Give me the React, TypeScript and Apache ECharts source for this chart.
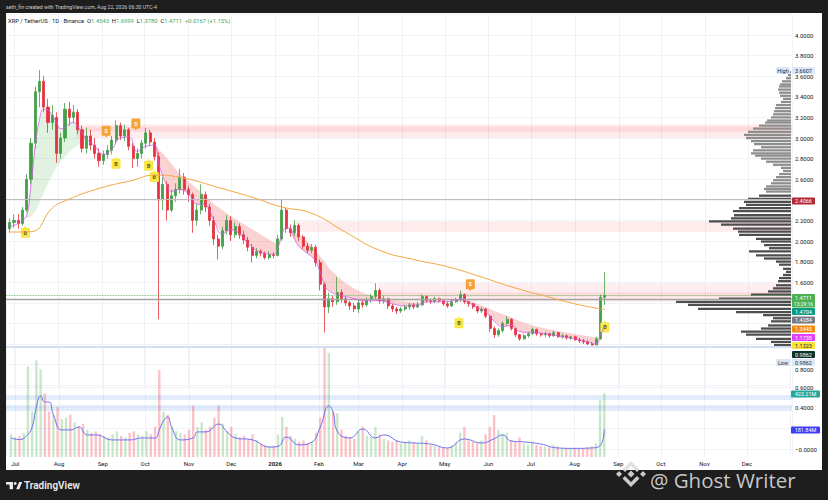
import React, { useEffect, useRef } from "react";
import * as echarts from "echarts";

const DAY = 86400000;
const FIRST_CANDLE = Date.UTC(2025, 5, 28);
const CANDLE_STEP_DAYS = 3;
const X_MIN = Date.UTC(2025, 5, 25, 8);
const X_MAX = Date.UTC(2027, 0, 1, 1);
const LAST_LABEL = Date.UTC(2026, 11, 15);

// [open, close, low, high], one candle every 3 days from 2025-06-28
const candles: number[][] = [
  [2.12,2.18,2.08,2.22],[2.18,2.2,2.13,2.26],[2.2,2.17,2.12,2.26],[2.17,2.3,2.15,2.33],[2.3,2.6,2.28,2.65],[2.6,2.95,2.55,3.0],[2.95,3.45,2.9,3.5],[3.45,3.55,3.3,3.6607],[3.55,3.3,3.25,3.6],[3.3,3.15,3.05,3.38],
  [3.15,3.22,3.08,3.32],[3.2,2.85,2.76,3.25],[2.85,3.0,2.8,3.05],[3.0,3.28,2.96,3.34],[3.28,3.2,3.12,3.35],[3.2,3.25,3.15,3.32],[3.25,3.08,3.04,3.28],[3.08,2.9,2.86,3.12],[2.9,3.02,2.85,3.1],[3.02,2.93,2.88,3.08],
  [2.93,2.85,2.8,3.0],[2.85,2.78,2.72,2.9],[2.78,2.84,2.74,2.88],[2.84,2.88,2.8,2.93],[2.88,2.98,2.84,3.02],[2.98,3.12,2.95,3.17],[3.12,3.02,2.98,3.15],[3.02,3.08,2.97,3.13],[3.08,2.92,2.88,3.1],[2.92,2.8,2.71,2.95],
  [2.8,2.85,2.72,2.9],[2.85,2.95,2.8,2.98],[2.95,3.05,2.9,3.1],[3.05,2.96,2.92,3.08],[2.96,2.82,2.78,3.0],[2.82,2.4,1.24,2.86],[2.4,2.55,2.3,2.62],[2.55,2.3,2.2,2.58],[2.3,2.44,2.28,2.5],[2.44,2.5,2.38,2.56],
  [2.5,2.62,2.46,2.7],[2.62,2.5,2.45,2.66],[2.5,2.45,2.38,2.53],[2.45,2.2,2.08,2.47],[2.2,2.3,2.15,2.36],[2.3,2.45,2.26,2.55],[2.45,2.33,2.28,2.48],[2.33,2.2,2.15,2.36],[2.2,2.02,1.96,2.24],[2.02,1.95,1.82,2.06],
  [1.95,2.1,1.92,2.14],[2.1,2.2,2.06,2.25],[2.2,2.06,2.0,2.24],[2.06,2.14,2.03,2.18],[2.14,2.06,2.02,2.17],[2.06,2.01,1.97,2.1],[2.01,1.94,1.9,2.04],[1.94,1.86,1.79,1.97],[1.86,1.9,1.83,1.93],[1.9,1.88,1.85,1.92],
  [1.88,1.84,1.82,1.9],[1.84,1.87,1.82,1.9],[1.87,1.86,1.83,1.89],[1.86,2.02,1.85,2.06],[2.02,2.3,2.0,2.4],[2.3,2.12,2.08,2.32],[2.12,2.08,2.04,2.16],[2.08,2.15,2.05,2.2],[2.15,2.04,2.0,2.17],[2.04,1.95,1.92,2.06],
  [1.95,1.91,1.88,1.98],[1.91,1.94,1.88,1.97],[1.94,1.79,1.75,1.96],[1.79,1.58,1.52,1.82],[1.58,1.36,1.11,1.6],[1.36,1.44,1.3,1.5],[1.44,1.41,1.36,1.47],[1.41,1.5,1.38,1.65],[1.5,1.44,1.4,1.53],[1.44,1.4,1.37,1.46],
  [1.4,1.37,1.33,1.42],[1.37,1.34,1.31,1.4],[1.34,1.4,1.3,1.43],[1.4,1.38,1.35,1.43],[1.38,1.43,1.36,1.45],[1.43,1.46,1.4,1.49],[1.46,1.52,1.43,1.59],[1.52,1.42,1.39,1.54],[1.42,1.44,1.39,1.47],[1.44,1.37,1.34,1.45],
  [1.37,1.34,1.31,1.39],[1.34,1.32,1.29,1.36],[1.32,1.34,1.3,1.36],[1.34,1.36,1.32,1.38],[1.36,1.38,1.33,1.4],[1.38,1.36,1.34,1.4],[1.36,1.38,1.35,1.41],[1.38,1.46,1.37,1.48],[1.46,1.42,1.4,1.47],[1.42,1.41,1.39,1.44],
  [1.41,1.44,1.4,1.46],[1.44,1.42,1.4,1.45],[1.42,1.39,1.37,1.43],[1.39,1.37,1.35,1.41],[1.37,1.41,1.36,1.43],[1.41,1.43,1.4,1.45],[1.43,1.48,1.41,1.52],[1.48,1.41,1.39,1.49],[1.41,1.39,1.36,1.42],[1.39,1.36,1.34,1.4],
  [1.36,1.32,1.3,1.37],[1.32,1.34,1.3,1.36],[1.34,1.27,1.25,1.35],[1.27,1.15,1.12,1.28],[1.15,1.09,1.06,1.17],[1.09,1.13,1.07,1.15],[1.13,1.2,1.11,1.22],[1.2,1.24,1.18,1.27],[1.24,1.15,1.13,1.25],[1.15,1.09,1.07,1.16],
  [1.09,1.05,1.03,1.1],[1.05,1.08,1.04,1.1],[1.08,1.1,1.06,1.12],[1.1,1.14,1.09,1.16],[1.14,1.1,1.08,1.15],[1.1,1.09,1.07,1.11],[1.09,1.1,1.07,1.12],[1.1,1.08,1.06,1.11],[1.08,1.11,1.07,1.13],[1.11,1.07,1.06,1.12],
  [1.07,1.08,1.05,1.1],[1.08,1.06,1.04,1.09],[1.06,1.07,1.04,1.08],[1.07,1.04,1.03,1.08],[1.04,1.03,1.01,1.06],[1.03,1.02,1.0,1.05],[1.02,1.0,0.99,1.04],[1.0,0.99,0.9862,1.02],[0.99,1.05,0.99,1.07],[1.05,1.4543,1.04,1.48],
  [1.4543,1.4711,1.378,1.6999],
];

// volume (M) per candle
const volumes: number[] = [
  150,130,140,160,600,300,640,580,420,300,
  280,330,250,260,280,230,200,220,180,160,
  170,150,140,130,150,170,140,130,160,170,
  150,140,170,150,200,576,300,280,200,170,
  160,150,180,340,200,230,180,200,260,340,
  220,170,200,150,130,140,120,150,110,90,
  80,70,75,150,265,200,140,120,100,110,
  90,100,160,260,728,690,300,290,180,140,
  130,120,170,200,140,130,200,150,120,110,
  100,110,90,100,110,95,90,140,110,80,
  75,70,65,60,80,100,160,200,110,100,
  90,110,150,200,278,180,150,160,110,100,
  130,90,80,100,80,75,70,65,80,70,
  60,60,55,60,55,60,65,70,90,380,
  423.21,
];

// [candle index, value]
const ma200: number[][] = [
  [0,2.087],[5,2.09],[10,2.32],[13,2.39],[21,2.51],[29,2.59],[34,2.64],[41,2.61],[49,2.52],[57,2.425],
  [64,2.33],[71,2.27],[79,2.085],[87,1.91],[95,1.82],[103,1.75],[111,1.65],[118,1.555],[126,1.465],[134,1.38],[140,1.335],
];
const fastMA: number[][] = [
  [0,2.14],[2,2.17],[3,2.2],[4,2.25],[5,2.55],[6,2.92],[7,3.18],[8,3.28],[9,3.27],[10,3.22],[11,3.15],[12,3.09],[13,3.1],[14,3.14],[15,3.15],
  [16,3.11],[17,3.05],[18,2.99],[19,2.96],[20,2.92],[22,2.84],[24,2.89],[26,3.0],[28,3.01],[30,2.87],[32,2.92],[34,2.93],[35,2.76],[36,2.63],
  [37,2.54],[38,2.48],[40,2.5],[42,2.46],[44,2.36],[46,2.35],[48,2.2],[50,2.07],[52,2.11],[54,2.07],[56,1.98],[58,1.91],[60,1.88],[62,1.87],
  [63,1.93],[64,2.06],[65,2.13],[66,2.12],[67,2.02],[68,1.95],[70,1.88],[71,1.85],[72,1.8],[73,1.7],[74,1.58],[75,1.52],[77,1.48],[79,1.46],
  [81,1.44],[83,1.42],[85,1.42],[87,1.42],[90,1.39],[93,1.37],[96,1.38],[98,1.41],[102,1.41],[106,1.43],[108,1.4],[110,1.35],[112,1.31],
  [114,1.22],[116,1.17],[118,1.18],[120,1.12],[123,1.11],[126,1.1],[130,1.07],[134,1.04],[137,1.01],[138,1.0],[139,1.09],[140,1.174],
];
// [candle index, upper, lower]
const greenCloud: number[][] = [
  [4,2.25,2.22],[5,2.55,2.24],[6,2.92,2.29],[7,3.18,2.37],[8,3.28,2.47],[9,3.27,2.56],[10,3.22,2.64],[11,3.15,2.72],
  [12,3.09,2.77],[13,3.1,2.82],[14,3.14,2.86],[15,3.15,2.9],[16,3.11,2.93],[17,3.05,2.96],[18,2.99,2.98],
];
const redCloud: number[][] = [
  [34,2.93,2.93],[35,2.89,2.76],[36,2.85,2.63],[37,2.8,2.54],[38,2.75,2.48],[40,2.65,2.5],[42,2.58,2.46],[44,2.51,2.36],[46,2.44,2.35],
  [48,2.36,2.2],[50,2.3,2.07],[52,2.24,2.11],[54,2.19,2.07],[56,2.14,1.98],[58,2.09,1.91],[60,2.04,1.88],[62,1.99,1.87],[63,1.97,1.93],
  [64,2.0,2.0],[66,2.07,2.07],[67,2.08,2.02],[68,2.06,1.95],[70,2.0,1.88],[71,1.95,1.85],[72,1.9,1.8],[73,1.85,1.7],[74,1.8,1.58],
  [75,1.74,1.52],[77,1.66,1.48],[79,1.59,1.46],[81,1.54,1.44],[83,1.5,1.42],[85,1.47,1.42],[87,1.45,1.42],[90,1.42,1.39],[93,1.41,1.37],
  [96,1.4,1.38],[98,1.41,1.41],[106,1.43,1.43],[108,1.42,1.4],[110,1.39,1.35],[112,1.36,1.31],[114,1.32,1.22],[116,1.29,1.17],
  [118,1.26,1.18],[120,1.22,1.12],[123,1.18,1.11],[126,1.15,1.1],[130,1.12,1.07],[134,1.09,1.04],[137,1.07,1.01],[138,1.065,1.0],[139,1.07,1.07],
];
// volume moving average (M): [candle index, value]
const volMA: number[][] = [
  [0,126],[2,115],[4,150],[5,199],[6,330],[7,405],[8,364],[9,364],[10,280],[12,179],[14,179],[16,199],[18,146],[20,146],[24,113],
  [28,113],[31,126],[34,126],[35,180],[36,240],[37,265],[38,190],[40,113],[43,126],[44,166],[46,166],[49,218],[51,166],[53,126],
  [57,113],[61,66],[63,70],[65,132],[68,80],[71,99],[73,199],[75,338],[76,298],[77,170],[80,126],[83,185],[86,126],[88,146],
  [92,99],[95,93],[99,86],[103,60],[107,119],[111,93],[114,120],[116,146],[118,106],[121,100],[125,86],[129,60],[133,57],
  [137,60],[139,75],[140,181.84],
];
// volume profile: [price, length]
const profile: number[][] = [
  [3.64,2],[3.61,3],[3.58,5],[3.55,9],[3.52,11],[3.5,12],[3.47,13],[3.44,12],[3.41,11],[3.38,8],[3.35,10],[3.32,15],[3.29,16],
  [3.26,17],[3.23,18],[3.2,20],[3.17,24],[3.15,26],[3.12,32],[3.09,38],[3.06,43],[3.03,47],[3.0,45],[2.97,40],[2.94,37],[2.91,30],
  [2.88,38],[2.85,40],[2.83,36],[2.8,30],[2.77,25],[2.74,18],[2.71,10],[2.68,8],[2.65,12],[2.62,15],[2.59,18],[2.56,20],[2.53,25],
  [2.505,27],[2.48,25],[2.44,32],[2.41,43],[2.38,47],[2.35,45],[2.32,52],[2.29,58],[2.25,57],[2.22,60],[2.19,82],[2.16,70],[2.12,58],
  [2.09,53],[2.06,52],[2.02,35],[1.995,30],[1.96,27],[1.93,22],[1.9,42],[1.86,35],[1.83,27],[1.8,15],[1.77,12],[1.73,8],[1.7,5],
  [1.67,8],[1.64,12],[1.61,13],[1.57,15],[1.54,18],[1.51,23],[1.48,40],[1.44,72],[1.41,115],[1.38,103],[1.34,93],[1.31,55],[1.28,28],
  [1.25,18],[1.22,20],[1.18,23],[1.15,30],[1.12,50],[1.09,45],[1.05,35],[1.02,20],[0.99,17],
];
const VA_LOW = 0.98;
const VA_HIGH = 2.46;
const PROFILE_BIN = 0.022;

// signals: [date, price, kind]
const signals: [string, number, string][] = [
  ["2025-07-09", 2.09, "B"], ["2025-09-04", 3.06, "S"], ["2025-09-11", 2.76, "B"], ["2025-09-25", 3.13, "S"],
  ["2025-10-04", 2.74, "B"], ["2025-10-08", 2.63, "B"], ["2026-05-11", 1.21, "B"], ["2026-05-19", 1.57, "S"],
  ["2026-08-22", 1.17, "B"],
];
// supply zones: start date, low, high, opacity
const zoneStarts = ["2025-08-14", "2025-08-14", "2026-01-14", "2026-03-15", "2026-03-15"];
const zoneLows = [3.0, 3.06, 2.09, 1.41, 1.46];
const zoneHighs = [3.13, 3.11, 2.19, 1.59, 1.5];
const zoneAlphas = [0.1, 0.1, 0.1, 0.09, 0.1];
// indicator bands
const bandLows = [0.368, 0.474];
const bandHighs = [0.426, 0.523];
// horizontal levels
const levelValues = [2.4066, 1.4284, 1.4711, 0.975];
// price-axis ticks hidden behind the axis badges (as on the reference)
const coveredTicks = [2.4, 1.4, 1.2, 1.0];

const MONTHS = ["Jan","Feb","Mar","Apr","May","Jun","Jul","Aug","Sep","Oct","Nov","Dec"];
const FONT = 'Roboto, "Noto Sans", sans-serif';
const UP = "#43a047";
const DOWN = "#e6323e";

const tAt = (i: number) => FIRST_CANDLE + i * CANDLE_STEP_DAYS * DAY;
const d = (s: string) => Date.parse(s + "T00:00:00Z");

const S_PATH = "path://M1,0 H9 Q10,0 10,1 V9 Q10,10 9,10 H6.5 L5,12 L3.5,10 H1 Q0,10 0,9 V1 Q0,0 1,0 Z";
const B_PATH = "path://M1,2 H3.5 L5,0 L6.5,2 H9 Q10,2 10,3 V11 Q10,12 9,12 H1 Q0,12 0,11 V3 Q0,2 1,2 Z";

function cloudSeries(cloud: number[][], fill: string) {
  return {
    type: "custom",
    xAxisIndex: 0,
    yAxisIndex: 0,
    z: 2,
    silent: true,
    data: [[tAt(cloud[0][0]), cloud[0][1]]],
    renderItem: (_p: any, api: any) => {
      const up = cloud.map((c) => api.coord([tAt(c[0]), c[1]]));
      const lo = cloud.slice().reverse().map((c) => api.coord([tAt(c[0]), c[2]]));
      return { type: "polygon", shape: { points: up.concat(lo) }, style: { fill } };
    },
  };
}

function txt(x: number, y: number, text: string, font: string, fill: string, align = "left") {
  return {
    type: "text", x, y, z: 101,
    style: { text, font, fill, align, verticalAlign: "middle", textAlign: align, textVerticalAlign: "middle" },
  };
}
function badge(x: number, y: number, w: number, h: number, bg: string, text: string, fg: string) {
  return [
    { type: "rect", z: 100, shape: { x, y: y - h / 2, width: w, height: h, r: 1 }, style: { fill: bg } },
    txt(x + w / 2, y + 0.3, text, `5.5px ${FONT}`, fg, "center"),
  ];
}

const axisBadges: [string, number, string, string][] = [
  ["3.6607", 70.5, "#dbe6f6", "#2a2e39"],
  ["2.4066", 201, "#b22833", "#ffffff"],
  ["1.4704", 311.5, "#089981", "#ffffff"],
  ["1.4284", 320, "#787b86", "#ffffff"],
  ["1.3445", 329, "#f5890f", "#ffffff"],
  ["1.1738", 337.5, "#e040fb", "#ffffff"],
  ["1.1323", 345.5, "#f7e43a", "#2a2e39"],
  ["0.9862", 354.5, "#0c3327", "#ffffff"],
  ["0.9862", 362.5, "#dbe6f6", "#2a2e39"],
];

function buildOption() {
  const timeAxisBase = {
    type: "time", min: X_MIN, max: X_MAX, splitNumber: 18,
    axisLine: { show: false }, axisTick: { show: false },
    splitLine: { show: true, lineStyle: { color: "#f0f2f7", width: 1 } },
  };
  const graphics: any[] = [
    txt(6, 6.5, "seth_fin created with TradingView.com, Aug 22, 2026 06:30 UTC-4", `5.2px ${FONT}`, "#cfcfcf"),
    {
      type: "text", x: 8, y: 21, z: 101,
      style: {
        text: "{d|XRP / TetherUS · 1D · Binance}  {d|O}{g|1.4543}  {d|H}{g|1.6999}  {d|L}{g|1.3780}  {d|C}{g|1.4711}  {g|+0.0167 (+1.15%)}",
        font: `5.8px ${FONT}`, verticalAlign: "middle", textVerticalAlign: "middle",
        rich: {
          d: { fill: "#131722", color: "#131722", font: `5.8px ${FONT}` },
          g: { fill: "#3fa85a", color: "#3fa85a", font: `5.8px ${FONT}` },
        },
      },
    },
  ];
  axisBadges.forEach(([t, y, bg, fg]) => graphics.push(...badge(792, y, 23, 7, bg, t, fg)));
  graphics.push(...badge(776, 70.5, 14, 7, "#dbe6f6", "High", "#2a2e39"));
  graphics.push(...badge(776, 362.5, 14, 7, "#dbe6f6", "Low", "#2a2e39"));
  graphics.push({ type: "rect", z: 100, shape: { x: 792, y: 294, width: 23, height: 13.5, r: 1 }, style: { fill: "#4caf50" } });
  graphics.push(txt(803.5, 297.5, "1.4711", `5.5px ${FONT}`, "#ffffff", "center"));
  graphics.push(txt(803.5, 304, "13:29:16", `5px ${FONT}`, "#ffffff", "center"));
  graphics.push(...badge(791, 394, 29, 7, "#26a69a", "423.21M", "#ffffff"));
  graphics.push(...badge(791, 430, 29, 7, "#3d3df2", "181.84M", "#ffffff"));
  // TradingView logo
  graphics.push({ type: "rect", z: 101, shape: { x: 6, y: 482, width: 7, height: 2.6 }, style: { fill: "#ececec" } });
  graphics.push({ type: "rect", z: 101, shape: { x: 9.6, y: 482, width: 3.4, height: 7.2 }, style: { fill: "#ececec" } });
  graphics.push({ type: "circle", z: 101, shape: { cx: 15.2, cy: 483.4, r: 1.45 }, style: { fill: "#ececec" } });
  graphics.push({ type: "polygon", z: 101, shape: { points: [[16.2, 489.2], [19.2, 482], [22.2, 482], [19.2, 489.2]] }, style: { fill: "#ececec" } });
  graphics.push(txt(24, 485.8, "TradingView", `600 10px ${FONT}`, "#ececec"));
  // watermark
  const wm = "rgba(222,222,222,0.9)";
  graphics.push({ type: "polygon", z: 102, shape: { points: [[631, 461], [639.5, 469.5], [637, 472], [631, 466], [625, 472], [622.5, 469.5]] }, style: { fill: wm } });
  graphics.push({ type: "polygon", z: 102, shape: { points: [[631, 487], [639.5, 478.5], [637, 476], [631, 482], [625, 476], [622.5, 478.5]] }, style: { fill: wm } });
  graphics.push({ type: "polygon", z: 102, shape: { points: [[631, 470.5], [634.5, 474], [631, 477.5], [627.5, 474]] }, style: { fill: wm } });
  graphics.push({ type: "polygon", z: 102, shape: { points: [[619, 471], [622, 474], [619, 477], [616, 474]] }, style: { fill: wm } });
  graphics.push({ type: "polygon", z: 102, shape: { points: [[643, 471], [646, 474], [643, 477], [640, 474]] }, style: { fill: wm } });
  graphics.push(txt(650, 479.5, "@ Ghost Writer", `20.5px "Open Sans", ${FONT}`, wm));

  const isCovered = (v: number) => coveredTicks.some((c) => Math.abs(c - v) < 1e-6);

  return {
    animation: false,
    useUTC: true,
    backgroundColor: "transparent",
    grid: [
      { left: 6, right: 36, top: 14.4, height: 370.8, outerBoundsMode: "none" },
      { left: 6, right: 36, top: 347, height: 110, outerBoundsMode: "none" },
      { left: 6, right: 36, top: 387, height: 62, outerBoundsMode: "none" },
      { left: 640, right: 37, top: 14.4, height: 370.8, outerBoundsMode: "none" },
    ],
    xAxis: [
      { ...timeAxisBase, gridIndex: 0, axisLabel: { show: false } },
      {
        ...timeAxisBase, gridIndex: 1,
        axisLabel: {
          show: true, fontSize: 6, color: "#131722", fontFamily: FONT, margin: 3,
          formatter: (val: number) => {
            const dt = new Date(val);
            if (val > LAST_LABEL || dt.getUTCDate() !== 1) return "";
            const m = dt.getUTCMonth();
            return m === 0 ? "{y|" + dt.getUTCFullYear() + "}" : MONTHS[m];
          },
          rich: { y: { fontWeight: "bold", fontSize: 6, color: "#131722", fontFamily: FONT } },
        },
      },
      { type: "time", gridIndex: 2, min: X_MIN, max: X_MAX, show: false },
      { type: "value", gridIndex: 3, min: 0, max: 151, inverse: true, show: false },
    ],
    yAxis: [
      {
        type: "value", gridIndex: 0, position: "right", min: 0.6, max: 4.2, interval: 0.2,
        axisLine: { show: false }, axisTick: { show: false },
        splitLine: { show: true, lineStyle: { color: "#f0f2f7", width: 1 } },
        axisLabel: {
          fontSize: 6, color: "#131722", fontFamily: FONT, margin: 3,
          formatter: (v: number) => {
            if (v < 0.75 || v > 4.1 || isCovered(v)) return "";
            if (v < 0.85) return "{low|" + v.toFixed(4) + "}";
            return v.toFixed(4);
          },
          rich: { low: { fontSize: 6, color: "#131722", fontFamily: FONT, padding: [9, 0, 0, 0] } },
        },
      },
      { type: "value", gridIndex: 1, min: 0, max: 728, show: false },
      {
        type: "value", gridIndex: 2, position: "right", min: 0, max: 0.6, interval: 0.2,
        axisLine: { show: false }, axisTick: { show: false },
        splitLine: { show: true, lineStyle: { color: "#f0f2f7", width: 1 } },
        axisLabel: {
          fontSize: 6, color: "#131722", fontFamily: FONT, margin: 3,
          formatter: (v: number) => (Math.abs(v) < 1e-9 ? "\u22120.0000" : Math.abs(v - 0.2) < 1e-6 ? "" : v.toFixed(4)),
        },
      },
      { type: "value", gridIndex: 3, min: 0.6, max: 4.2, show: false },
    ],
    series: [
      {
        name: "zones", type: "line", xAxisIndex: 0, yAxisIndex: 0, z: 1, silent: true, showSymbol: false,
        data: ma200.map((p) => [tAt(p[0]), p[1]]), lineStyle: { opacity: 0 },
        markArea: {
          silent: true,
          data: zoneStarts.map((s, k) => [
            { xAxis: d(s), yAxis: zoneHighs[k], itemStyle: { color: `rgba(242,54,69,${zoneAlphas[k]})` } },
            { xAxis: X_MAX, yAxis: zoneLows[k] },
          ]),
        },
        markLine: {
          silent: true, symbol: ["none", "none"], label: { show: false }, animation: false,
          data: [
            { yAxis: levelValues[0], lineStyle: { color: "#bdbdbd", width: 1, type: "solid" } },
            { yAxis: levelValues[1], lineStyle: { color: "#a3a3a3", width: 1.4, type: "solid" } },
            { yAxis: levelValues[2], lineStyle: { color: "#4caf50", width: 0.8, type: "dotted" } },
            { yAxis: levelValues[3], lineStyle: { color: "#d3dff0", width: 2, type: "solid" } },
          ],
        },
      },
      cloudSeries(greenCloud, "rgba(76,175,80,0.17)"),
      cloudSeries(redCloud, "rgba(239,83,80,0.26)"),
      {
        type: "custom", xAxisIndex: 3, yAxisIndex: 3, z: 2, silent: true,
        data: profile, encode: { x: 1, y: 0 },
        renderItem: (_p: any, api: any) => {
          const price = api.value(0);
          const len = api.value(1);
          const r = api.coord([0, price]);
          const l = api.coord([len, price]);
          const h = api.size([0, PROFILE_BIN])[1];
          return {
            type: "rect",
            shape: { x: l[0], y: r[1] - h / 2, width: r[0] - l[0], height: h },
            style: { fill: price >= VA_LOW && price <= VA_HIGH ? "#4e4e4e" : "#8e8e8e" },
          };
        },
      },
      {
        type: "candlestick", xAxisIndex: 0, yAxisIndex: 0, z: 4, barWidth: 2.6,
        data: candles.map((c, i) => [tAt(i), c[0], c[1], c[2], c[3]]),
        itemStyle: { color: UP, color0: DOWN, borderColor: UP, borderColor0: DOWN, borderWidth: 0.8 },
        markPoint: {
          silent: true, animation: false,
          data: signals.map(([date, p, k]) => ({
            coord: [d(date), p],
            symbol: k === "S" ? S_PATH : B_PATH,
            symbolSize: [9, 12],
            itemStyle: { color: k === "S" ? "#f5a236" : "#f8e64a" },
            label: {
              show: true, formatter: k, color: k === "S" ? "#ffffff" : "#6b5a00",
              fontSize: 5.5, fontWeight: "bold", fontFamily: FONT, offset: [0, k === "S" ? -1 : 1],
            },
          })),
        },
      },
      {
        type: "line", xAxisIndex: 0, yAxisIndex: 0, z: 5, smooth: true, showSymbol: false, silent: true,
        data: ma200.map((p) => [tAt(p[0]), p[1]]), lineStyle: { color: "#f5a742", width: 1 },
      },
      {
        type: "line", xAxisIndex: 0, yAxisIndex: 0, z: 5, smooth: true, showSymbol: false, silent: true,
        data: fastMA.map((p) => [tAt(p[0]), p[1]]), lineStyle: { color: "#d35ce6", width: 0.8 },
      },
      {
        type: "bar", xAxisIndex: 1, yAxisIndex: 1, z: 2, barWidth: 2.4, silent: true,
        data: volumes.map((v, i) => ({
          value: [tAt(i), v],
          itemStyle: { color: candles[i][1] >= candles[i][0] ? "rgba(76,175,80,0.3)" : "rgba(242,54,69,0.3)" },
        })),
      },
      {
        type: "line", xAxisIndex: 1, yAxisIndex: 1, z: 5, smooth: true, showSymbol: false, silent: true,
        data: volMA.map((p) => [tAt(p[0]), p[1]]), lineStyle: { color: "#6f6ff0", width: 1 },
      },
      {
        type: "line", xAxisIndex: 2, yAxisIndex: 2, z: 1, silent: true, showSymbol: false,
        data: [[X_MIN, 0], [X_MAX, 0]], lineStyle: { opacity: 0 },
        markArea: {
          silent: true,
          itemStyle: { color: "rgba(150,190,240,0.28)" },
          data: bandLows.map((lo, k) => [{ xAxis: X_MIN, yAxis: bandHighs[k] }, { xAxis: X_MAX, yAxis: lo }]),
        },
      },
    ],
    graphic: { elements: graphics },
  };
}

export default function App() {
  const ref = useRef<HTMLDivElement>(null);
  useEffect(() => {
    const el = ref.current;
    if (!el) return;
    const chart = echarts.init(el, null, { renderer: "svg", width: 828, height: 500 });
    chart.setOption(buildOption() as any);
    return () => chart.dispose();
  }, []);
  return (
    <div style={{ position: "fixed", left: 0, top: 0, width: 828, height: 500, background: "#1e1e1e", overflow: "hidden" }}>
      <div style={{ position: "absolute", left: 6, top: 13, width: 816, height: 457, background: "#ffffff" }} />
      <div ref={ref} style={{ position: "absolute", left: 0, top: 0, width: 828, height: 500 }} />
    </div>
  );
}
